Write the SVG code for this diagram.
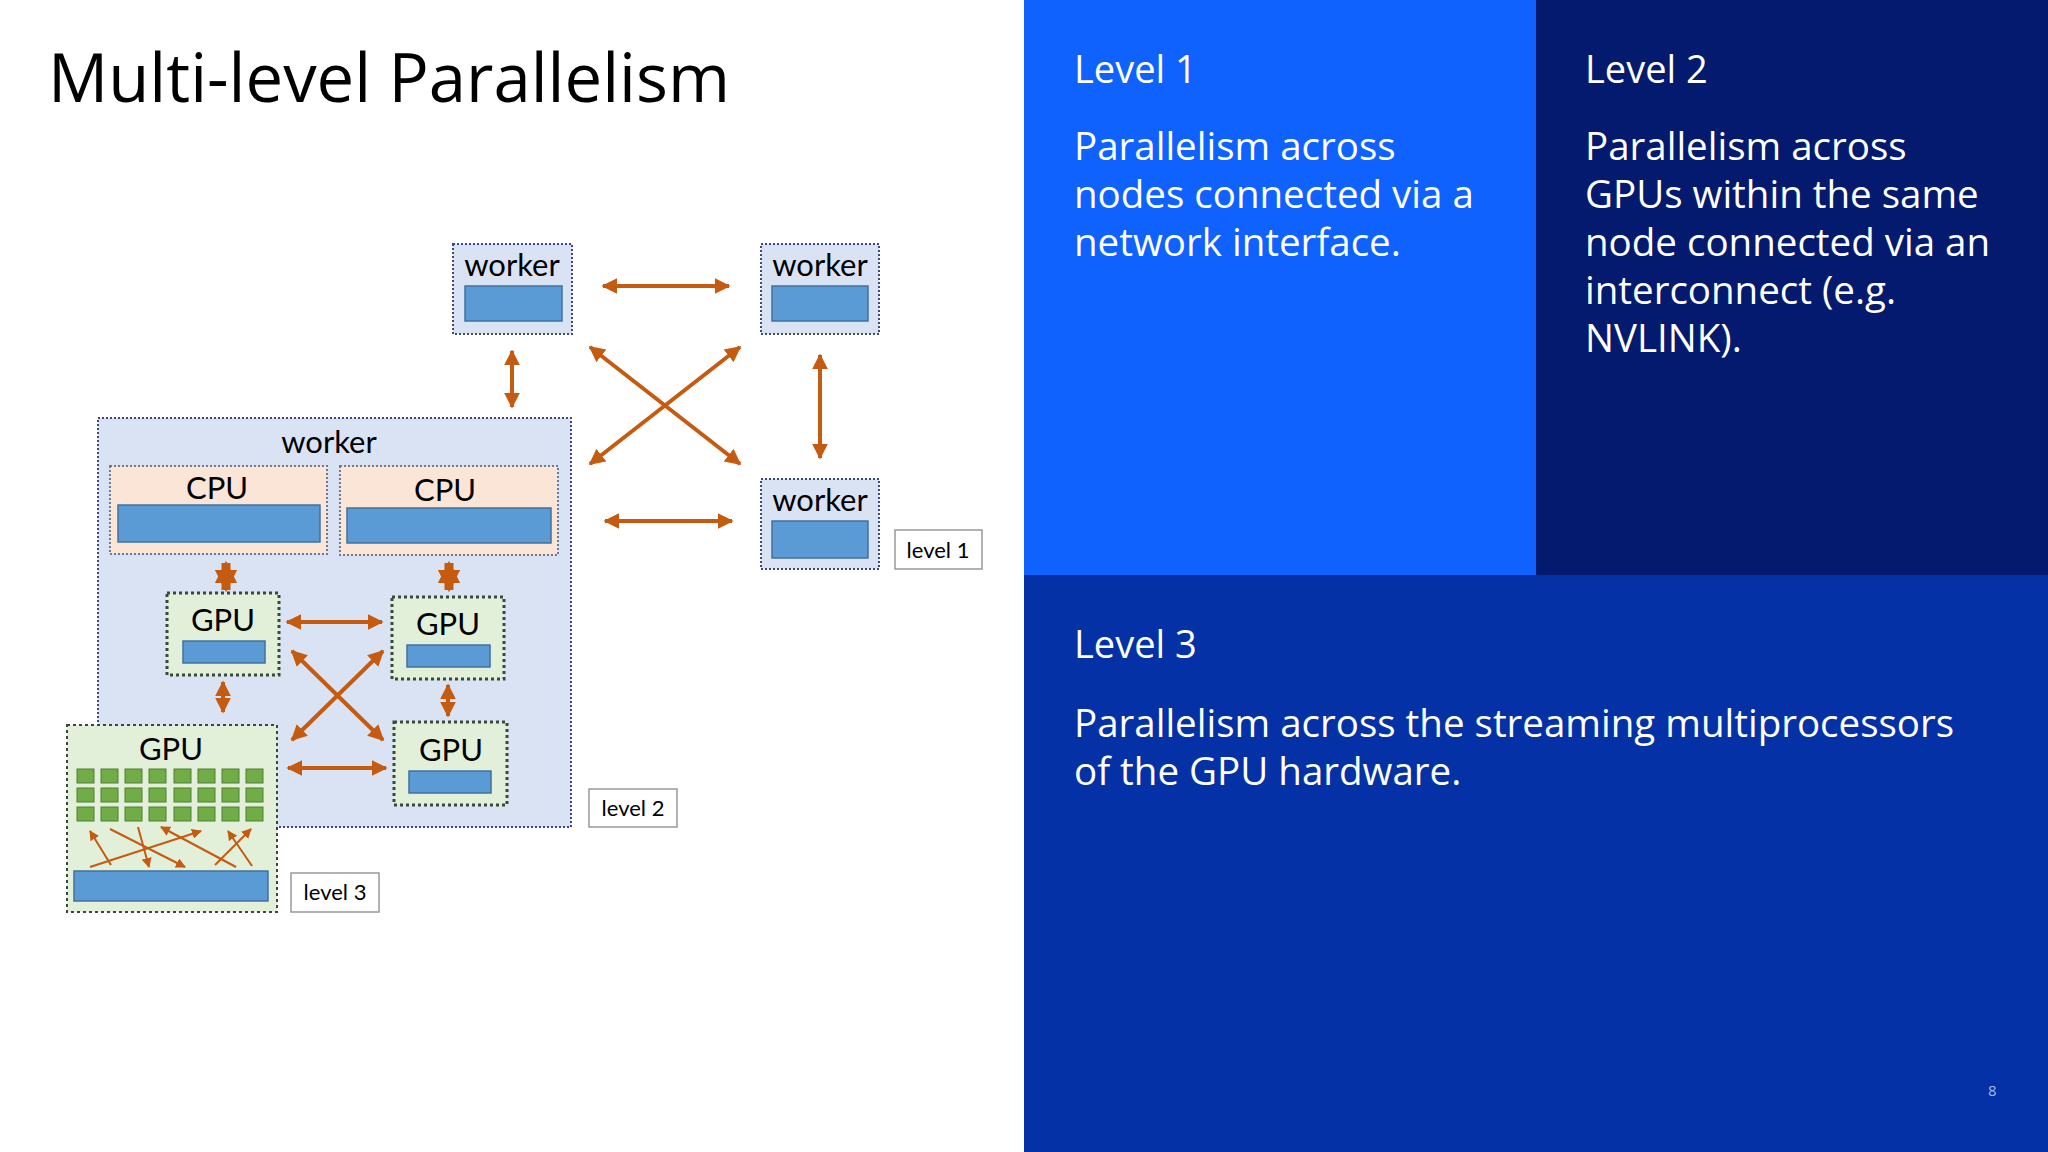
<svg xmlns="http://www.w3.org/2000/svg" width="2048" height="1152" viewBox="0 0 2048 1152">
<defs>
<marker id="ah" viewBox="0 0 10 10" refX="9" refY="5" markerWidth="4" markerHeight="4" orient="auto-start-reverse"><path d="M0,0 L10,5 L0,10 z" fill="#c55a11"/></marker>
<marker id="ahs" viewBox="0 0 10 10" refX="9" refY="5" markerWidth="5" markerHeight="5" orient="auto-start-reverse"><path d="M0,0 L10,5 L0,10 z" fill="#c55a11"/></marker>
<marker id="aht" viewBox="0 0 10 10" refX="9" refY="5" markerWidth="2.5" markerHeight="2.5" orient="auto-start-reverse"><path d="M0,0 L10,5 L0,10 z" fill="#c55a11"/></marker>
<style>
.t{font-family:"Open Sans","Noto Sans",sans-serif;fill:#fff}
.d{font-family:Lato,"Liberation Sans",sans-serif;fill:#000;text-anchor:middle}
.wk{fill:#dae3f3;stroke:#3b4a7a;stroke-width:2;stroke-dasharray:2 2}
.cpu{fill:#fbe5d6;stroke:#6a7a9a;stroke-width:2;stroke-dasharray:2 2}
.gpu{fill:#e2f0d9;stroke:#3a4a3a;stroke-width:3;stroke-dasharray:3 3}
.bar{fill:#5b9bd5;stroke:#41719c;stroke-width:1.5}
.sq{fill:#70ad47;stroke:#507e32;stroke-width:1}
.lb{fill:#fff;stroke:#999;stroke-width:1.5}
.a{stroke:#c55a11;stroke-width:4;fill:none;marker-start:url(#ah);marker-end:url(#ah)}
.ak{stroke:#c55a11;stroke-width:9;fill:none;marker-start:url(#aht);marker-end:url(#aht)}
.as{stroke:#c55a11;stroke-width:2;fill:none;marker-end:url(#ahs)}
</style>
</defs>
<rect width="2048" height="1152" fill="#fff"/>
<rect x="1024" y="0" width="512" height="575" fill="#0f62fe"/>
<rect x="1536" y="0" width="512" height="575" fill="#041a6e"/>
<rect x="1024" y="575" width="1024" height="577" fill="#0432a6"/>
<text x="48" y="102" font-family="'Open Sans','Noto Sans',sans-serif" font-size="67" fill="#000">Multi-level Parallelism</text>
<g class="t" font-size="38"><text x="1074" y="83">Level 1</text><text x="1585" y="83">Level 2</text><text x="1074" y="658">Level 3</text></g>
<g class="t" font-size="38.5">
<text x="1074" y="160">Parallelism across</text><text x="1074" y="208">nodes connected via a</text><text x="1074" y="256">network interface.</text>
<text x="1585" y="160">Parallelism across</text><text x="1585" y="208">GPUs within the same</text><text x="1585" y="256">node connected via an</text><text x="1585" y="304">interconnect (e.g.</text><text x="1585" y="352">NVLINK).</text>
<text x="1074" y="737">Parallelism across the streaming multiprocessors</text><text x="1074" y="785">of the GPU hardware.</text>
</g>
<text x="1988" y="1096" font-family="'Open Sans',sans-serif" font-size="15" fill="#a8b8e8">8</text>

<g id="worker1"><rect class="wk" x="453" y="244" width="119" height="90"/><text class="d" x="512" y="276" font-size="31">worker</text><rect class="bar" x="465" y="286" width="97" height="35"/></g>
<g id="worker2"><rect class="wk" x="761" y="244" width="118" height="90"/><text class="d" x="820" y="276" font-size="31">worker</text><rect class="bar" x="772" y="286" width="96" height="35"/></g>
<g id="worker3"><rect class="wk" x="761" y="479" width="118" height="90"/><text class="d" x="820" y="511" font-size="31">worker</text><rect class="bar" x="772" y="521" width="96" height="37"/></g>
<g id="level1"><rect class="lb" x="895" y="530" width="87" height="39"/><text class="d" x="938" y="558" font-size="22">level 1</text></g>
<g id="worker-main"><rect class="wk" x="98" y="418" width="473" height="409"/><text class="d" x="329" y="453" font-size="31">worker</text></g>
<g id="cpu1"><rect class="cpu" x="110" y="466" width="217" height="88"/><text class="d" x="217" y="499" font-size="31">CPU</text><rect class="bar" x="118" y="505" width="202" height="37"/></g>
<g id="cpu2"><rect class="cpu" x="340" y="466" width="218" height="89"/><text class="d" x="445" y="501" font-size="31">CPU</text><rect class="bar" x="347" y="508" width="204" height="35"/></g>
<g id="gpu1"><rect class="gpu" x="167" y="593" width="112" height="82"/><text class="d" x="223" y="631" font-size="31">GPU</text><rect class="bar" x="183" y="641" width="82" height="22"/></g>
<g id="gpu2"><rect class="gpu" x="392" y="597" width="112" height="82"/><text class="d" x="448" y="635" font-size="31">GPU</text><rect class="bar" x="407" y="645" width="83" height="22"/></g>
<g id="gpu3"><rect class="gpu" x="394" y="722" width="113" height="83"/><text class="d" x="451" y="761" font-size="31">GPU</text><rect class="bar" x="409" y="771" width="82" height="22"/></g>
<g id="gpu-big"><rect class="gpu" x="67" y="725" width="210" height="187" style="stroke-width:2"/><text class="d" x="171" y="760" font-size="31">GPU</text>
<g>
<rect class="sq" x="77" y="769" width="17" height="14"/><rect class="sq" x="101" y="769" width="17" height="14"/><rect class="sq" x="125" y="769" width="17" height="14"/><rect class="sq" x="149" y="769" width="17" height="14"/><rect class="sq" x="174" y="769" width="17" height="14"/><rect class="sq" x="198" y="769" width="17" height="14"/><rect class="sq" x="222" y="769" width="17" height="14"/><rect class="sq" x="246" y="769" width="17" height="14"/>
<rect class="sq" x="77" y="788" width="17" height="14"/><rect class="sq" x="101" y="788" width="17" height="14"/><rect class="sq" x="125" y="788" width="17" height="14"/><rect class="sq" x="149" y="788" width="17" height="14"/><rect class="sq" x="174" y="788" width="17" height="14"/><rect class="sq" x="198" y="788" width="17" height="14"/><rect class="sq" x="222" y="788" width="17" height="14"/><rect class="sq" x="246" y="788" width="17" height="14"/>
<rect class="sq" x="77" y="807" width="17" height="14"/><rect class="sq" x="101" y="807" width="17" height="14"/><rect class="sq" x="125" y="807" width="17" height="14"/><rect class="sq" x="149" y="807" width="17" height="14"/><rect class="sq" x="174" y="807" width="17" height="14"/><rect class="sq" x="198" y="807" width="17" height="14"/><rect class="sq" x="222" y="807" width="17" height="14"/><rect class="sq" x="246" y="807" width="17" height="14"/>
</g>
<rect class="bar" x="74" y="871" width="194" height="30"/></g>
<g id="level2"><rect class="lb" x="589" y="789" width="88" height="38"/><text class="d" x="633" y="816" font-size="22">level 2</text></g>
<g id="level3"><rect class="lb" x="291" y="873" width="88" height="39"/><text class="d" x="335" y="900" font-size="22">level 3</text></g>

<g id="connectors">
<line class="a" x1="603" y1="286" x2="729" y2="286"/>
<line class="a" x1="605" y1="521" x2="732" y2="521"/>
<line class="a" x1="512" y1="351" x2="512" y2="407"/>
<line class="a" x1="820" y1="355" x2="820" y2="458"/>
<line class="a" x1="590" y1="347" x2="740" y2="464"/>
<line class="a" x1="740" y1="347" x2="590" y2="464"/>
<line class="ak" x1="226" y1="563" x2="226" y2="590"/>
<line class="ak" x1="449" y1="563" x2="449" y2="590"/>
<line class="a" x1="287" y1="622" x2="382" y2="622"/>
<line class="a" x1="288" y1="768" x2="386" y2="768"/>
<line class="a" x1="223" y1="682" x2="223" y2="712"/>
<line class="a" x1="448" y1="685" x2="448" y2="716"/>
<line class="a" x1="292" y1="651" x2="383" y2="740"/>
<line class="a" x1="383" y1="651" x2="292" y2="740"/>
<line class="as" x1="90" y1="867" x2="201" y2="831"/>
<line class="as" x1="110" y1="829" x2="185" y2="867"/>
<line class="as" x1="138" y1="827" x2="149" y2="867"/>
<line class="as" x1="111" y1="865" x2="90" y2="831"/>
<line class="as" x1="236" y1="867" x2="161" y2="827"/>
<line class="as" x1="215" y1="865" x2="251" y2="829"/>
<line class="as" x1="252" y1="866" x2="228" y2="831"/>
</g>
</svg>
